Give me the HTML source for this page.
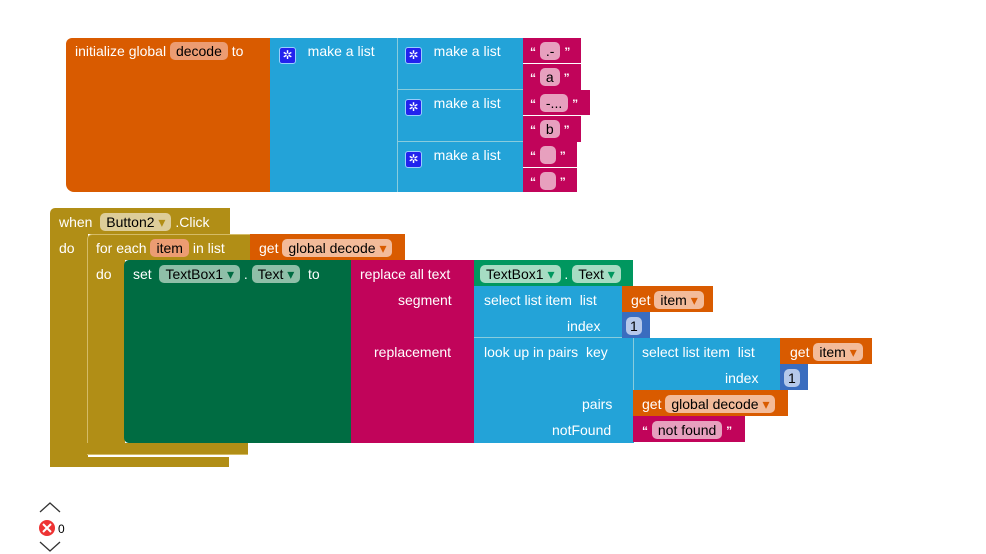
<!DOCTYPE html>
<html><head><style>
body{margin:0;width:986px;height:554px;background:#fff;position:relative;overflow:hidden;font-family:"Liberation Sans",sans-serif;font-size:14px;color:#fff}
.b{position:absolute;box-sizing:border-box}
.t{position:absolute;white-space:nowrap;line-height:18px;margin-top:1px}
.f{display:inline-block;border-radius:5px;padding:0 6px;color:#000;line-height:18px}
.or{background:#D95B00}.bl{background:#23A3D8}.mg{background:#C1045A}.gr{background:#006C42}.tl{background:#00975F}.ol{background:#B18E16}.db{background:#3A6DBF}
.g{display:inline-block;width:15px;height:15px;background:#2222ee;border:1px solid #9cf;border-radius:3px;vertical-align:-3px;text-align:center;font-size:12px;line-height:15px}
.q{font-weight:bold;font-size:12px}
</style></head><body>
<!-- block 1 -->
<div class="b or" style="left:66px;top:38px;width:205px;height:154px;border-radius:6px 0 0 8px"></div>
<div class="t" style="left:75px;top:41px">initialize global <span class="f" style="background:#EC9C72">decode</span> to</div>
<div class="b bl" style="left:270px;top:38px;width:128px;height:154px"></div>
<div class="t" style="left:279px;top:41px"><span class="g">✲</span>&nbsp;&nbsp;&nbsp;make a list</div>
<div class="b bl" style="left:397px;top:38px;width:127px;height:52px;border-left:1px solid #8cd;border-bottom:1px solid #8cd"></div>
<div class="b bl" style="left:397px;top:90px;width:127px;height:52px;border-left:1px solid #8cd;border-bottom:1px solid #8cd"></div>
<div class="b bl" style="left:397px;top:142px;width:127px;height:50px;border-left:1px solid #8cd"></div>
<div class="t" style="left:405px;top:41px"><span class="g">✲</span>&nbsp;&nbsp;&nbsp;make a list</div>
<div class="t" style="left:405px;top:93px"><span class="g">✲</span>&nbsp;&nbsp;&nbsp;make a list</div>
<div class="t" style="left:405px;top:145px"><span class="g">✲</span>&nbsp;&nbsp;&nbsp;make a list</div>
<div class="b mg" style="left:523px;top:38px;width:58px;height:26px;border-bottom:1px solid #fff"></div>
<div class="t" style="left:530px;top:41px"><span class="q">“</span> <span class="f" style="background:#E7A0BE">.-</span> <span class="q">”</span></div>
<div class="b mg" style="left:523px;top:64px;width:58px;height:26px"></div>
<div class="t" style="left:530px;top:67px"><span class="q">“</span> <span class="f" style="background:#E7A0BE">a</span> <span class="q">”</span></div>
<div class="b mg" style="left:523px;top:90px;width:67px;height:26px;border-bottom:1px solid #fff"></div>
<div class="t" style="left:530px;top:93px"><span class="q">“</span> <span class="f" style="background:#E7A0BE">-...</span> <span class="q">”</span></div>
<div class="b mg" style="left:523px;top:116px;width:58px;height:26px"></div>
<div class="t" style="left:530px;top:119px"><span class="q">“</span> <span class="f" style="background:#E7A0BE">b</span> <span class="q">”</span></div>
<div class="b mg" style="left:523px;top:142px;width:54px;height:26px;border-bottom:1px solid #fff"></div>
<div class="t" style="left:530px;top:145px"><span class="q">“</span> <span class="f" style="background:#E7A0BE;width:4px">&nbsp;</span> <span class="q">”</span></div>
<div class="b mg" style="left:523px;top:168px;width:54px;height:24px"></div>
<div class="t" style="left:530px;top:171px"><span class="q">“</span> <span class="f" style="background:#E7A0BE;width:4px">&nbsp;</span> <span class="q">”</span></div>

<!-- event -->
<div class="b ol" style="left:50px;top:208px;width:180px;height:26px;border-radius:5px 0 0 0"></div>
<div class="b ol" style="left:50px;top:233px;width:38px;height:234px;border-radius:0 0 0 5px"></div>
<div class="b ol" style="left:50px;top:457px;width:179px;height:10px"></div>
<div class="t" style="left:59px;top:212px">when&nbsp;&nbsp;<span class="f" style="background:#DDCD9A">Button2 <span style="color:#B18E16">▾</span></span> .Click</div>
<div class="t" style="left:59px;top:238px">do</div>
<div class="b ol" style="left:87px;top:234px;width:164px;height:26px;border-radius:5px 0 0 0;border-top:1px solid #d4bb66;border-left:1px solid #d4bb66"></div>
<div class="b ol" style="left:87px;top:259px;width:38px;height:196px;border-left:1px solid #d4bb66;border-bottom:1px solid #d4bb66;border-radius:0 0 0 5px"></div>
<div class="b ol" style="left:87px;top:443px;width:161px;height:12px;border-bottom:1px solid #d4bb66"></div>
<div class="t" style="left:96px;top:238px">for each <span class="f" style="background:#EC9C72">item</span> in list</div>
<div class="t" style="left:96px;top:264px">do</div>
<div class="b or" style="left:250px;top:234px;width:155px;height:26px"></div>
<div class="t" style="left:259px;top:238px">get <span class="f" style="background:#F3BB9A">global decode <span style="color:#D95B00">▾</span></span></div>
<div class="b gr" style="left:124px;top:260px;width:228px;height:183px;border-radius:5px 0 0 5px"></div>
<div class="t" style="left:133px;top:264px">set&nbsp;&nbsp;<span class="f" style="background:#8FBFA8">TextBox1 <span style="color:#006C42">▾</span></span> . <span class="f" style="background:#8FBFA8">Text <span style="color:#006C42">▾</span></span>&nbsp;&nbsp;to</div>
<div class="b mg" style="left:351px;top:260px;width:124px;height:183px"></div>
<div class="t" style="left:360px;top:264px">replace all text</div>
<div class="t" style="left:398px;top:290px">segment</div>
<div class="t" style="left:374px;top:342px">replacement</div>
<div class="b tl" style="left:474px;top:260px;width:159px;height:26px"></div>
<div class="t" style="left:480px;top:264px"><span class="f" style="background:#A6DCC3">TextBox1 <span style="color:#00975F">▾</span></span> . <span class="f" style="background:#A6DCC3">Text <span style="color:#00975F">▾</span></span></div>
<div class="b bl" style="left:474px;top:286px;width:149px;height:52px;border-bottom:1px solid #8cd"></div>
<div class="t" style="left:484px;top:290px">select list item&nbsp;&nbsp;list</div>
<div class="t" style="left:567px;top:316px">index</div>
<div class="b or" style="left:622px;top:286px;width:91px;height:26px"></div>
<div class="t" style="left:631px;top:290px">get <span class="f" style="background:#F3BB9A">item <span style="color:#D95B00">▾</span></span></div>
<div class="b db" style="left:622px;top:312px;width:28px;height:26px"></div>
<div class="t" style="left:626px;top:316px"><span class="f" style="background:#B5C8EA;padding:0 4px">1</span></div>
<div class="b bl" style="left:474px;top:338px;width:160px;height:105px"></div>
<div class="t" style="left:484px;top:342px">look up in pairs&nbsp;&nbsp;key</div>
<div class="t" style="left:582px;top:394px">pairs</div>
<div class="t" style="left:552px;top:420px">notFound</div>
<div class="b bl" style="left:633px;top:338px;width:148px;height:52px;border-left:1px solid #8cd"></div>
<div class="t" style="left:642px;top:342px">select list item&nbsp;&nbsp;list</div>
<div class="t" style="left:725px;top:368px">index</div>
<div class="b or" style="left:780px;top:338px;width:92px;height:26px"></div>
<div class="t" style="left:790px;top:342px">get <span class="f" style="background:#F3BB9A">item <span style="color:#D95B00">▾</span></span></div>
<div class="b db" style="left:780px;top:364px;width:28px;height:26px"></div>
<div class="t" style="left:784px;top:368px"><span class="f" style="background:#B5C8EA;padding:0 4px">1</span></div>
<div class="b or" style="left:633px;top:390px;width:155px;height:26px"></div>
<div class="t" style="left:642px;top:394px">get <span class="f" style="background:#F3BB9A">global decode <span style="color:#D95B00">▾</span></span></div>
<div class="b mg" style="left:633px;top:416px;width:112px;height:26px"></div>
<div class="t" style="left:642px;top:420px"><span class="q">“</span> <span class="f" style="background:#E7A0BE">not found</span> <span class="q">”</span></div>

<!-- warnings -->
<svg style="position:absolute;left:36px;top:500px" width="40" height="54">
<path d="M4 12 L14 3 L24 12" fill="none" stroke="#333" stroke-width="1.3"/>
<circle cx="11" cy="28" r="8" fill="#e33"/>
<path d="M7 24 L15 32 M15 24 L7 32" stroke="#fff" stroke-width="2"/>
<text x="22" y="33" fill="#000" font-size="12" font-family="Liberation Sans">0</text>
<path d="M4 42 L14 51 L24 42" fill="none" stroke="#333" stroke-width="1.3"/>
</svg>
</body></html>
